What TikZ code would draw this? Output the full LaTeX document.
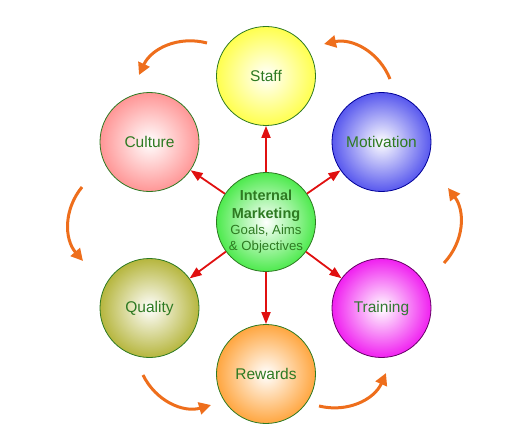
\documentclass[tikz,border=0pt]{standalone}
\usepackage{fontspec}
\setmainfont{Liberation Sans}
\usepackage{tikz}
\usetikzlibrary{arrows.meta,shapes}

\definecolor{leafgreen}{HTML}{2E7A22}
\definecolor{flame}{HTML}{EE6E1C}
\definecolor{arrowred}{HTML}{E01010}
\definecolor{staffyellow}{HTML}{FFFF4E}
\definecolor{culturepink}{HTML}{FF9696}
\definecolor{motivblue}{HTML}{5858EE}
\definecolor{coregreen}{HTML}{4EEA4E}
\definecolor{qualityolive}{HTML}{B6B63E}
\definecolor{trainmagenta}{HTML}{F020F0}
\definecolor{rewardorange}{HTML}{FFA640}
\newcommand{\headword}[1]{\textbf{\fontsize{14.5}{18}\selectfont #1}}

\begin{document}
\begin{tikzpicture}[x=1pt,y=-1pt,
  ball/.style={circle,minimum size=99pt,inner sep=0pt,draw=leafgreen,line width=0.8pt,
    text=leafgreen,font=\fontsize{15.5}{18}\selectfont,inner color=white,outer color=#1},
  push/.style={arrowred,line width=1.8pt,-{Triangle[length=12pt,width=9pt]}},
  turn/.style={flame,line width=3pt,-{Triangle[length=12pt,width=12pt]}}]
\useasboundingbox (0,0) rectangle (524,425);
% the seven balls
\node[ball=staffyellow] (staff) at (266,76) {Staff};
\node[ball=culturepink] (culture) at (149.5,142) {Culture};
\node[ball=motivblue,draw=blue!60!black] (motivation) at (381.5,142) {Motivation};
\node[ball=coregreen,align=center,font=\fontsize{13.2}{16}\selectfont] (core) at (266,222) {\headword{Internal}\\[2pt] \headword{Marketing}\\ Goals, Aims\\ \& Objectives};
\node[ball=qualityolive] (quality) at (149.5,308) {Quality};
\node[ball=trainmagenta,draw=violet!80!black,text=black!55!green!60!gray] (training) at (381.5,308) {Training};
\node[ball=rewardorange] (rewards) at (266,374) {Rewards};
% red arrows
\draw[push] (core) -- (staff);
\draw[push] (core) -- (culture);
\draw[push] (core) -- (motivation);
\draw[push] (core) -- (quality);
\draw[push] (core) -- (training);
\draw[push] (core) -- (rewards);
% orange cycle
\coordinate (a1) at (207,43);  \coordinate (b1) at (139,75);
\coordinate (a2) at (82,187);  \coordinate (b2) at (83,261);
\coordinate (a3) at (143,375); \coordinate (b3) at (211,405);
\coordinate (a4) at (319,406); \coordinate (b4) at (386,373);
\coordinate (a5) at (444,263); \coordinate (b5) at (448,188);
\coordinate (a6) at (390,79);  \coordinate (b6) at (324,44);
\draw[turn] (a1) to[bend right=40] (b1);
\draw[turn] (a2) to[bend right=40] (b2);
\draw[turn] (a3) to[bend right=40] (b3);
\draw[turn] (a4) to[bend right=40] (b4);
\draw[turn] (a5) to[bend right=40] (b5);
\draw[turn] (a6) to[bend right=40] (b6);
\end{tikzpicture}
\end{document}
